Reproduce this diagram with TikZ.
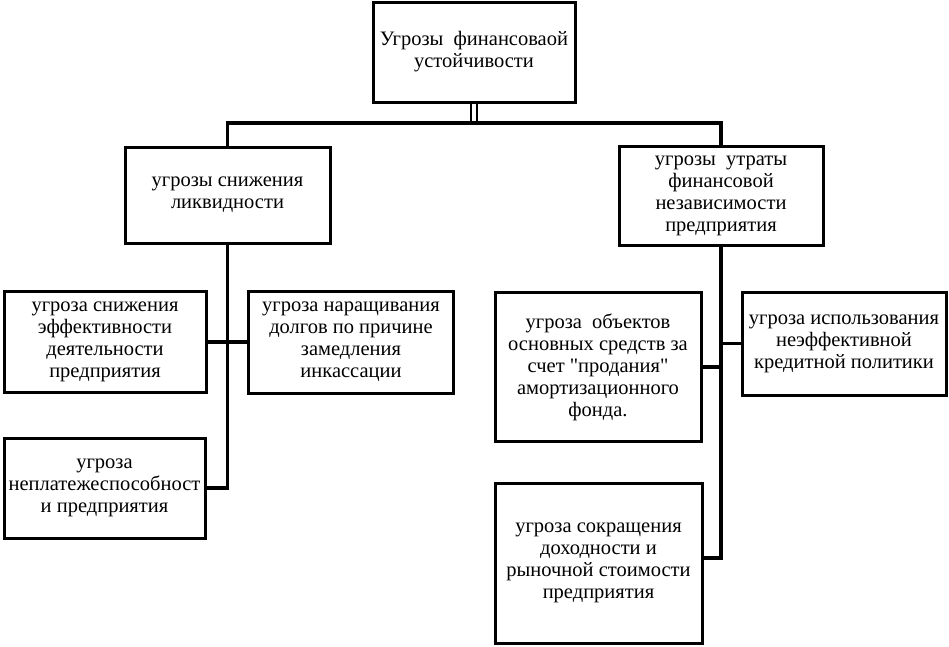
\documentclass[tikz,border=0pt]{standalone}
\usepackage{fontspec}
\setmainfont{Liberation Serif}[Ligatures=TeXOff]
\begin{document}
\begin{tikzpicture}[x=1pt,y=-1pt,
  box/.style={draw,line width=3pt,rectangle,inner sep=0pt,align=center,
    font=\fontsize{20.5}{22}\selectfont},
  conn/.style={line width=3.2pt}]
\useasboundingbox (0,0) rectangle (949,646);
% boxes: centre, width, height
\node[box,minimum width=202pt,minimum height=100pt] (top) at (474,52) {Угрозы\ \ финансоваой\\устойчивости};
\node[box,minimum width=205pt,minimum height=96pt] (lmid) at (227.5,195) {угрозы снижения\\ликвидности};
\node[box,minimum width=204pt,minimum height=99pt] (rmid) at (721,196) {угрозы\ \ утраты\\финансовой\\независимости\\предприятия};
\node[box,minimum width=202pt,minimum height=101pt] (l1) at (105,342) {угроза снижения\\эффективности\\деятельности\\предприятия};
\node[box,minimum width=205pt,minimum height=102pt] (l2) at (351,342) {угроза наращивания\\долгов по причине\\замедления\\инкассации};
\node[box,minimum width=201pt,minimum height=100pt] (l3) at (104.5,488) {угроза\\неплатежеспособност\\и предприятия};
\node[box,minimum width=206pt,minimum height=149pt] (r1) at (598,367) {угроза\ \ объектов\\основных средств за\\счет "продания"\\амортизационного\\фонда.};
\node[box,minimum width=204pt,minimum height=103pt] (r2) at (844,343.5) {угроза использования\\неэффективной\\кредитной политики};
\node[box,minimum width=207pt,minimum height=160pt] (r3) at (598.5,563) {угроза сокращения\\доходности и\\рыночной стоимости\\предприятия};
% connectors
\coordinate (bar) at (474,123);
\draw[line width=2pt,double,double distance=4pt] (top.south) -- (bar);
\draw[conn] (lmid.north) |- (bar) -| (rmid.north);
\draw[conn] (lmid.south) |- (l3.east);
\draw[conn] (l1.east) -- (l2.west);
\draw[conn] (rmid.south) |- ([yshift=5pt]r3.east);
\draw[conn] (r1.east) -- (r1.east -| rmid.south);
\draw[conn] (rmid.south |- r2.west) -- (r2.west);
\end{tikzpicture}
\end{document}
